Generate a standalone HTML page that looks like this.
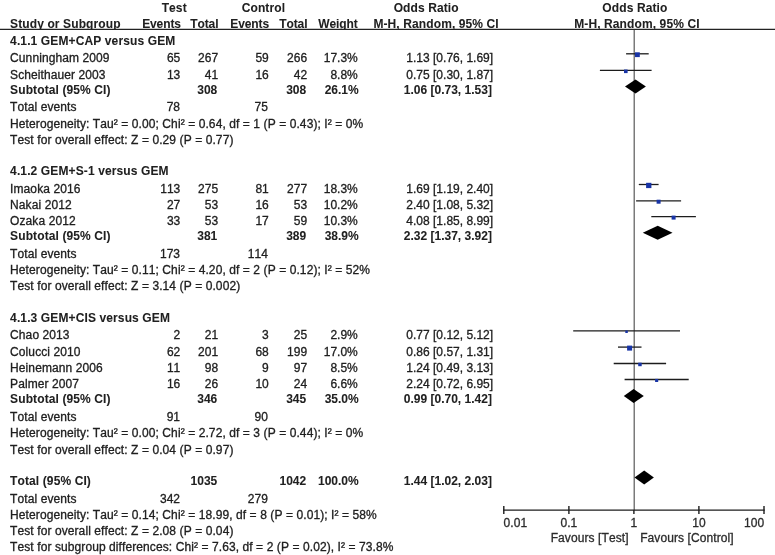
<!DOCTYPE html>
<html><head><meta charset="utf-8"><title>Forest plot</title>
<style>
html,body{margin:0;padding:0;background:#fff;}
svg{display:block;font-family:"Liberation Sans",Arial,Helvetica,sans-serif;font-size:12.0px;fill:#202020;}
text{font-kerning:none;stroke:#202020;stroke-width:0.3px;letter-spacing:0.09px;}
text.b,g.b text{font-weight:bold;font-size:12.0px;stroke-width:0.06px;letter-spacing:0.11px;}
text.ax{fill:#2b2b2b;stroke:#2b2b2b;}
text.n{letter-spacing:0;}
text.tt{letter-spacing:0.12px;}
g.b text.hn{letter-spacing:-0.1px;}
</style></head><body>
<svg width="775" height="555" viewBox="0 0 775 555">
<rect width="775" height="555" fill="#fff"/>
<defs><clipPath id="hc"><rect x="0" y="0" width="775" height="29.0"/></clipPath></defs>
<g class="b" clip-path="url(#hc)">
<text x="174.2" y="12" text-anchor="middle">Test</text>
<text x="263.4" y="12" text-anchor="middle">Control</text>
<text x="426.2" y="12" text-anchor="middle">Odds Ratio</text>
<text x="634.9" y="12" text-anchor="middle">Odds Ratio</text>
<text x="10.1" y="28" text-anchor="start">Study or Subgroup</text>
<text x="180.9" y="28" text-anchor="end" class="hn">Events</text>
<text x="218.4" y="28" text-anchor="end" class="hn">Total</text>
<text x="269.0" y="28" text-anchor="end" class="hn">Events</text>
<text x="307.4" y="28" text-anchor="end" class="hn">Total</text>
<text x="357.7" y="28" text-anchor="end" class="hn">Weight</text>
<text x="436.1" y="28" text-anchor="middle">M-H, Random, 95% CI</text>
<text x="636.9" y="28" text-anchor="middle">M-H, Random, 95% CI</text>
</g>
<line x1="0" y1="29.3" x2="775" y2="29.3" stroke="#222" stroke-width="1.2"/>
<g>
<text id="g1t" x="10.1" y="45" class="b tt">4.1.1 GEM+CAP versus GEM</text>
<text id="g1s0" x="10.1" y="62">Cunningham 2009</text>
<text x="180.3" y="62" text-anchor="end" class="n">65</text>
<text x="218.1" y="62" text-anchor="end" class="n">267</text>
<text x="268.8" y="62" text-anchor="end" class="n">59</text>
<text x="307.1" y="62" text-anchor="end" class="n">266</text>
<text x="357.8" y="62" text-anchor="end" class="n">17.3%</text>
<text x="493.1" y="62" text-anchor="end" class="n">1.13 [0.76, 1.69]</text>
<text id="g1s1" x="10.1" y="79">Scheithauer 2003</text>
<text x="180.3" y="79" text-anchor="end" class="n">13</text>
<text x="218.1" y="79" text-anchor="end" class="n">41</text>
<text x="268.8" y="79" text-anchor="end" class="n">16</text>
<text x="307.1" y="79" text-anchor="end" class="n">42</text>
<text x="357.8" y="79" text-anchor="end" class="n">8.8%</text>
<text x="493.1" y="79" text-anchor="end" class="n">0.75 [0.30, 1.87]</text>
<text id="g1sub" x="10.1" y="94" class="b">Subtotal (95% CI)</text>
<text x="217.3" y="94" text-anchor="end" class="b n">308</text>
<text x="306.2" y="94" text-anchor="end" class="b n">308</text>
<text x="358.7" y="94" text-anchor="end" class="b n">26.1%</text>
<text x="491.9" y="94" text-anchor="end" class="b n">1.06 [0.73, 1.53]</text>
<text id="g1te" x="10.1" y="111">Total events</text>
<text x="180.0" y="111" text-anchor="end" class="n">78</text>
<text x="267.9" y="111" text-anchor="end" class="n">75</text>
<text id="g1het" x="10.1" y="128">Heterogeneity: Tau² = 0.00; Chi² = 0.64, df = 1 (P = 0.43); I² = 0%</text>
<text id="g1test" x="10.1" y="144">Test for overall effect: Z = 0.29 (P = 0.77)</text>
<text id="g2t" x="10.1" y="175" class="b tt">4.1.2 GEM+S-1 versus GEM</text>
<text id="g2s0" x="10.1" y="193">Imaoka 2016</text>
<text x="180.3" y="193" text-anchor="end" class="n">113</text>
<text x="218.1" y="193" text-anchor="end" class="n">275</text>
<text x="268.8" y="193" text-anchor="end" class="n">81</text>
<text x="307.1" y="193" text-anchor="end" class="n">277</text>
<text x="357.8" y="193" text-anchor="end" class="n">18.3%</text>
<text x="493.1" y="193" text-anchor="end" class="n">1.69 [1.19, 2.40]</text>
<text id="g2s1" x="10.1" y="209">Nakai 2012</text>
<text x="180.3" y="209" text-anchor="end" class="n">27</text>
<text x="218.1" y="209" text-anchor="end" class="n">53</text>
<text x="268.8" y="209" text-anchor="end" class="n">16</text>
<text x="307.1" y="209" text-anchor="end" class="n">53</text>
<text x="357.8" y="209" text-anchor="end" class="n">10.2%</text>
<text x="493.1" y="209" text-anchor="end" class="n">2.40 [1.08, 5.32]</text>
<text id="g2s2" x="10.1" y="225">Ozaka 2012</text>
<text x="180.3" y="225" text-anchor="end" class="n">33</text>
<text x="218.1" y="225" text-anchor="end" class="n">53</text>
<text x="268.8" y="225" text-anchor="end" class="n">17</text>
<text x="307.1" y="225" text-anchor="end" class="n">59</text>
<text x="357.8" y="225" text-anchor="end" class="n">10.3%</text>
<text x="493.1" y="225" text-anchor="end" class="n">4.08 [1.85, 8.99]</text>
<text id="g2sub" x="10.1" y="240" class="b">Subtotal (95% CI)</text>
<text x="217.3" y="240" text-anchor="end" class="b n">381</text>
<text x="306.2" y="240" text-anchor="end" class="b n">389</text>
<text x="358.7" y="240" text-anchor="end" class="b n">38.9%</text>
<text x="491.9" y="240" text-anchor="end" class="b n">2.32 [1.37, 3.92]</text>
<text id="g2te" x="10.1" y="258">Total events</text>
<text x="180.0" y="258" text-anchor="end" class="n">173</text>
<text x="267.9" y="258" text-anchor="end" class="n">114</text>
<text id="g2het" x="10.1" y="274">Heterogeneity: Tau² = 0.11; Chi² = 4.20, df = 2 (P = 0.12); I² = 52%</text>
<text id="g2test" x="10.1" y="290">Test for overall effect: Z = 3.14 (P = 0.002)</text>
<text id="g3t" x="10.1" y="322" class="b tt">4.1.3 GEM+CIS versus GEM</text>
<text id="g3s0" x="10.1" y="339">Chao 2013</text>
<text x="180.3" y="339" text-anchor="end" class="n">2</text>
<text x="218.1" y="339" text-anchor="end" class="n">21</text>
<text x="268.8" y="339" text-anchor="end" class="n">3</text>
<text x="307.1" y="339" text-anchor="end" class="n">25</text>
<text x="357.8" y="339" text-anchor="end" class="n">2.9%</text>
<text x="493.1" y="339" text-anchor="end" class="n">0.77 [0.12, 5.12]</text>
<text id="g3s1" x="10.1" y="356">Colucci 2010</text>
<text x="180.3" y="356" text-anchor="end" class="n">62</text>
<text x="218.1" y="356" text-anchor="end" class="n">201</text>
<text x="268.8" y="356" text-anchor="end" class="n">68</text>
<text x="307.1" y="356" text-anchor="end" class="n">199</text>
<text x="357.8" y="356" text-anchor="end" class="n">17.0%</text>
<text x="493.1" y="356" text-anchor="end" class="n">0.86 [0.57, 1.31]</text>
<text id="g3s2" x="10.1" y="372">Heinemann 2006</text>
<text x="180.3" y="372" text-anchor="end" class="n">11</text>
<text x="218.1" y="372" text-anchor="end" class="n">98</text>
<text x="268.8" y="372" text-anchor="end" class="n">9</text>
<text x="307.1" y="372" text-anchor="end" class="n">97</text>
<text x="357.8" y="372" text-anchor="end" class="n">8.5%</text>
<text x="493.1" y="372" text-anchor="end" class="n">1.24 [0.49, 3.13]</text>
<text id="g3s3" x="10.1" y="388">Palmer 2007</text>
<text x="180.3" y="388" text-anchor="end" class="n">16</text>
<text x="218.1" y="388" text-anchor="end" class="n">26</text>
<text x="268.8" y="388" text-anchor="end" class="n">10</text>
<text x="307.1" y="388" text-anchor="end" class="n">24</text>
<text x="357.8" y="388" text-anchor="end" class="n">6.6%</text>
<text x="493.1" y="388" text-anchor="end" class="n">2.24 [0.72, 6.95]</text>
<text id="g3sub" x="10.1" y="403" class="b">Subtotal (95% CI)</text>
<text x="217.3" y="403" text-anchor="end" class="b n">346</text>
<text x="306.2" y="403" text-anchor="end" class="b n">345</text>
<text x="358.7" y="403" text-anchor="end" class="b n">35.0%</text>
<text x="491.9" y="403" text-anchor="end" class="b n">0.99 [0.70, 1.42]</text>
<text id="g3te" x="10.1" y="421">Total events</text>
<text x="180.0" y="421" text-anchor="end" class="n">91</text>
<text x="267.9" y="421" text-anchor="end" class="n">90</text>
<text id="g3het" x="10.1" y="437">Heterogeneity: Tau² = 0.00; Chi² = 2.72, df = 3 (P = 0.44); I² = 0%</text>
<text id="g3test" x="10.1" y="454">Test for overall effect: Z = 0.04 (P = 0.97)</text>
<text id="g4sub" x="10.1" y="485" class="b">Total (95% CI)</text>
<text x="217.3" y="485" text-anchor="end" class="b n">1035</text>
<text x="306.2" y="485" text-anchor="end" class="b n">1042</text>
<text x="358.7" y="485" text-anchor="end" class="b n">100.0%</text>
<text x="491.9" y="485" text-anchor="end" class="b n">1.44 [1.02, 2.03]</text>
<text id="g4te" x="10.1" y="503">Total events</text>
<text x="180.0" y="503" text-anchor="end" class="n">342</text>
<text x="267.9" y="503" text-anchor="end" class="n">279</text>
<text id="g4het" x="10.1" y="519">Heterogeneity: Tau² = 0.14; Chi² = 18.99, df = 8 (P = 0.01); I² = 58%</text>
<text id="g4test" x="10.1" y="535">Test for overall effect: Z = 2.08 (P = 0.04)</text>
<text id="g4sg" x="10.1" y="551">Test for subgroup differences: Chi² = 7.63, df = 2 (P = 0.02), I² = 73.8%</text>
<text x="503.5" y="527" class="ax">0.01</text>
<text x="568.9" y="527" text-anchor="middle" class="ax">0.1</text>
<text x="633.9" y="527" text-anchor="middle" class="ax">1</text>
<text x="698.9" y="527" text-anchor="middle" class="ax">10</text>
<text x="764.3" y="527" text-anchor="end" class="ax">100</text>
<text x="628.6" y="542" text-anchor="end" class="ax">Favours [Test]</text>
<text x="640.2" y="542" class="ax">Favours [Control]</text>
</g>
<g>
<line x1="634.25" y1="29.9" x2="634.25" y2="510.1" stroke="#7a7a7a" stroke-width="1.5"/>
<line x1="503.1" y1="510.1" x2="764.7" y2="510.1" stroke="#1c1c1c" stroke-width="1.4"/>
<line x1="503.8" y1="505.9" x2="503.8" y2="514.1" stroke="#1c1c1c" stroke-width="1.4"/>
<line x1="568.9" y1="505.9" x2="568.9" y2="514.1" stroke="#1c1c1c" stroke-width="1.4"/>
<line x1="633.9" y1="510.1" x2="633.9" y2="514.1" stroke="#1c1c1c" stroke-width="1.4"/>
<line x1="698.9" y1="505.9" x2="698.9" y2="514.1" stroke="#1c1c1c" stroke-width="1.4"/>
<line x1="764.0" y1="505.9" x2="764.0" y2="514.1" stroke="#1c1c1c" stroke-width="1.4"/>
<line x1="626.1" y1="53.8" x2="648.7" y2="53.8" stroke="#1c1c1c" stroke-width="1.3"/>
<rect x="635.0" y="52.3" width="4.8" height="4.8" fill="#1834a6"/>
<line x1="599.9" y1="70.4" x2="651.6" y2="70.4" stroke="#1c1c1c" stroke-width="1.3"/>
<rect x="624.0" y="69.5" width="3.6" height="3.6" fill="#1834a6"/>
<polygon points="625.0,86.5 635.5,79.5 645.9,86.5 635.5,93.5" fill="#000"/>
<line x1="638.8" y1="184.5" x2="658.6" y2="184.5" stroke="#1c1c1c" stroke-width="1.3"/>
<rect x="646.1" y="182.8" width="5.3" height="5.3" fill="#1834a6"/>
<line x1="636.1" y1="200.8" x2="681.1" y2="200.8" stroke="#1c1c1c" stroke-width="1.3"/>
<rect x="656.6" y="199.7" width="4.0" height="4.0" fill="#1834a6"/>
<line x1="651.3" y1="216.7" x2="695.9" y2="216.7" stroke="#1c1c1c" stroke-width="1.3"/>
<rect x="671.6" y="215.6" width="4.0" height="4.0" fill="#1834a6"/>
<polygon points="642.8,232.7 657.7,225.7 672.5,232.7 657.7,239.7" fill="#000"/>
<line x1="573.2" y1="330.8" x2="680.0" y2="330.8" stroke="#1c1c1c" stroke-width="1.3"/>
<rect x="625.3" y="330.5" width="2.5" height="2.5" fill="#1834a6"/>
<line x1="618.0" y1="347.1" x2="641.5" y2="347.1" stroke="#1c1c1c" stroke-width="1.3"/>
<rect x="627.1" y="345.6" width="5.0" height="5.0" fill="#1834a6"/>
<line x1="613.7" y1="363.5" x2="666.1" y2="363.5" stroke="#1c1c1c" stroke-width="1.3"/>
<rect x="638.2" y="362.7" width="3.5" height="3.5" fill="#1834a6"/>
<line x1="624.6" y1="379.5" x2="688.7" y2="379.5" stroke="#1c1c1c" stroke-width="1.3"/>
<rect x="655.1" y="378.9" width="3.1" height="3.1" fill="#1834a6"/>
<polygon points="623.8,395.9 633.6,388.9 643.8,395.9 633.6,402.9" fill="#000"/>
<polygon points="634.5,477.6 644.2,470.6 653.9,477.6 644.2,484.6" fill="#000"/>
</g>
</svg>
</body></html>
